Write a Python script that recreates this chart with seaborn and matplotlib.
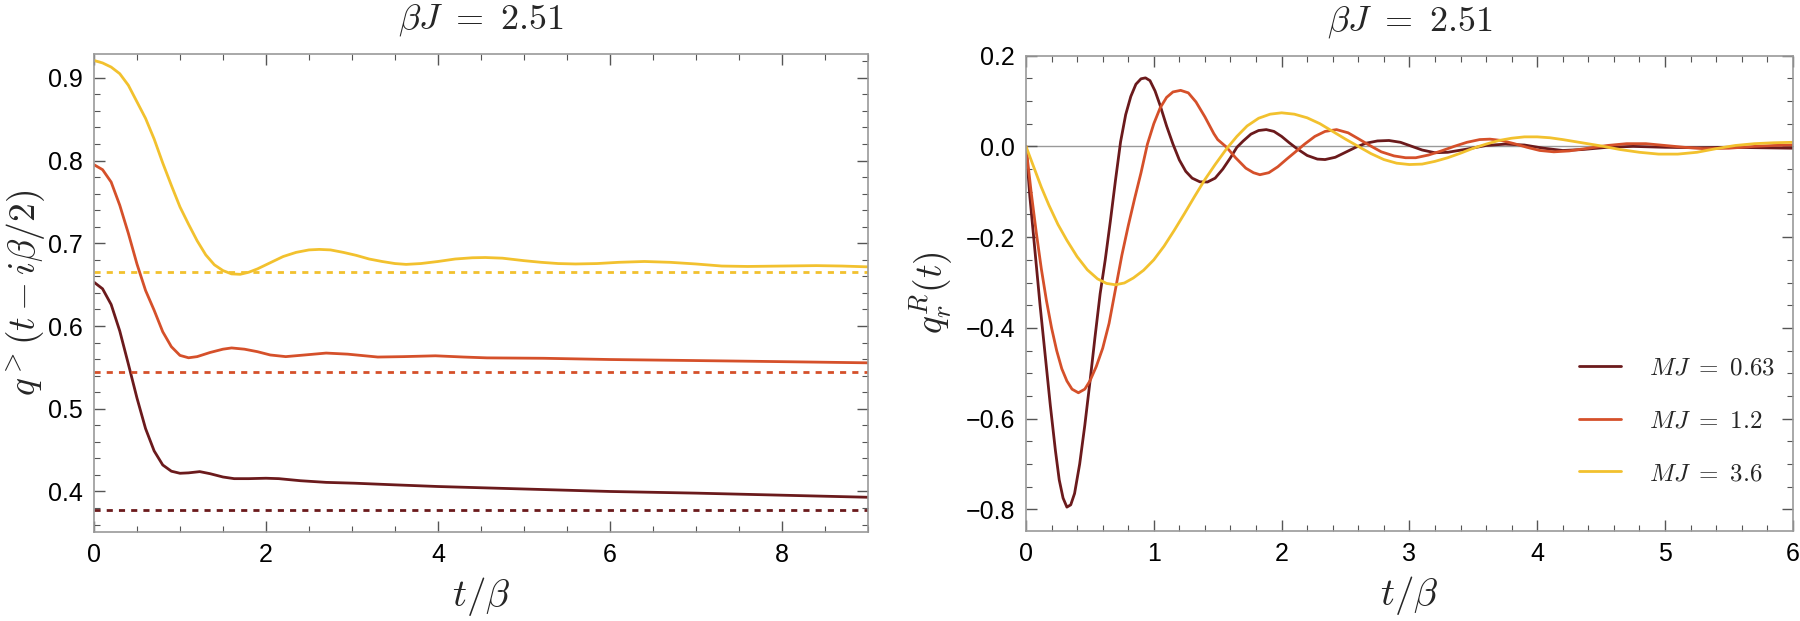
import numpy as np
import pandas as pd
import matplotlib
matplotlib.use("Agg")
import matplotlib.pyplot as plt
from matplotlib import font_manager
from matplotlib.ticker import MultipleLocator
import seaborn as sns

# ---------------- data ----------------
title_text = r"$\beta J\ =\ 2.51$"
labels = [r"$MJ\ =\ 0.63$", r"$MJ\ =\ 1.2$", r"$MJ\ =\ 3.6$"]

# left panel: q^>(t - i beta/2)
left_dark_t = [0, 0.1, 0.2, 0.3, 0.4, 0.5, 0.6, 0.7, 0.8, 0.9, 1.0, 1.1, 1.23, 1.35, 1.5, 1.63, 1.8, 2.0,
               2.15, 2.4, 2.7, 3.03, 3.5, 4.0, 5.0, 6.0, 7.0, 8.0, 9.0]
left_dark_v = [0.653, 0.645, 0.626, 0.594, 0.554, 0.513, 0.476, 0.449, 0.432, 0.4245, 0.422, 0.4225, 0.424,
               0.4215, 0.4175, 0.4155, 0.4155, 0.416, 0.4155, 0.413, 0.411, 0.410, 0.408, 0.406, 0.403,
               0.400, 0.398, 0.3955, 0.393]
left_red_t = [0, 0.1, 0.2, 0.3, 0.4, 0.5, 0.6, 0.7, 0.8, 0.9, 1.0, 1.1, 1.2, 1.35, 1.5, 1.6, 1.75, 1.9, 2.05,
              2.23, 2.45, 2.7, 2.95, 3.3, 3.6, 3.97, 4.3, 4.57, 5.23, 6.0, 6.8, 7.57, 8.3, 9.0]
left_red_v = [0.795, 0.789, 0.774, 0.746, 0.712, 0.675, 0.643, 0.619, 0.593, 0.575, 0.5645, 0.5616, 0.563,
              0.568, 0.572, 0.5735, 0.572, 0.569, 0.565, 0.563, 0.565, 0.5673, 0.566, 0.5625, 0.563, 0.564,
              0.5625, 0.5615, 0.561, 0.5595, 0.5585, 0.5575, 0.5565, 0.5555]
left_yel_t = [0, 0.1, 0.2, 0.3, 0.4, 0.5, 0.6, 0.7, 0.8, 0.9, 1.0, 1.1, 1.2, 1.3, 1.4, 1.5, 1.6, 1.7, 1.8,
              1.9, 2.0, 2.1, 2.2, 2.35, 2.5, 2.62, 2.75, 2.9, 3.05, 3.2, 3.35, 3.5, 3.63, 3.8, 4.0, 4.2, 4.4,
              4.55, 4.75, 5.0, 5.2, 5.4, 5.6, 5.85, 6.1, 6.4, 6.7, 7.0, 7.3, 7.6, 8.0, 8.4, 8.7, 9.0]
left_yel_v = [0.921, 0.918, 0.913, 0.905, 0.891, 0.871, 0.851, 0.826, 0.797, 0.770, 0.744, 0.723, 0.703,
              0.686, 0.674, 0.667, 0.663, 0.6625, 0.665, 0.669, 0.674, 0.679, 0.684, 0.689, 0.692, 0.6926,
              0.692, 0.689, 0.6854, 0.681, 0.678, 0.6755, 0.6745, 0.6755, 0.678, 0.681, 0.6825, 0.6828,
              0.682, 0.679, 0.677, 0.6755, 0.675, 0.6755, 0.677, 0.678, 0.677, 0.675, 0.6725, 0.672,
              0.6725, 0.673, 0.6725, 0.6715]
asymptotes = [0.378, 0.545, 0.665]

# right panel: q_r^R(t)
right_dark_t = [0, 0.03, 0.07, 0.11, 0.15, 0.19, 0.23, 0.26, 0.29, 0.32, 0.35, 0.38, 0.42, 0.46, 0.50, 0.54,
                0.58, 0.62, 0.66, 0.70, 0.74, 0.78, 0.82, 0.86, 0.90, 0.935, 0.97, 1.01, 1.05, 1.10, 1.15,
                1.20, 1.25, 1.30, 1.36, 1.42, 1.48, 1.54, 1.60, 1.65, 1.70, 1.76, 1.82, 1.88, 1.94, 2.0,
                2.06, 2.12, 2.2, 2.28, 2.34, 2.42, 2.5, 2.58, 2.66, 2.75, 2.84, 2.93, 3.02, 3.1, 3.2, 3.3,
                3.45, 3.6, 3.75, 3.9, 4.05, 4.2, 4.35, 4.55, 4.75, 5.0, 5.25, 5.5, 5.75, 6.0]
right_dark_v = [0.0, -0.11, -0.23, -0.35, -0.46, -0.57, -0.67, -0.735, -0.775, -0.795, -0.79, -0.765, -0.70,
                -0.615, -0.52, -0.42, -0.325, -0.25, -0.165, -0.075, 0.01, 0.07, 0.11, 0.137, 0.149, 0.151,
                0.145, 0.122, 0.09, 0.045, 0.005, -0.03, -0.055, -0.07, -0.078, -0.0785, -0.07, -0.05,
                -0.025, -0.002, 0.012, 0.027, 0.035, 0.037, 0.033, 0.022, 0.008, -0.005, -0.02, -0.028,
                -0.029, -0.024, -0.013, -0.002, 0.007, 0.012, 0.013, 0.009, 0.0, -0.008, -0.014, -0.013,
                -0.006, 0.002, 0.005, 0.003, -0.004, -0.009, -0.007, -0.002, 0.0, -0.002, -0.003, -0.002,
                -0.003, -0.004]
right_red_t = [0, 0.04, 0.08, 0.12, 0.16, 0.2, 0.24, 0.28, 0.32, 0.36, 0.41, 0.46, 0.5, 0.55, 0.6, 0.65, 0.7,
               0.75, 0.8, 0.85, 0.9, 0.95, 1.0, 1.05, 1.1, 1.15, 1.21, 1.27, 1.33, 1.4, 1.47, 1.5, 1.57, 1.64,
               1.72, 1.78, 1.83, 1.9, 1.97, 2.04, 2.1, 2.18, 2.26, 2.34, 2.43, 2.52, 2.6, 2.69, 2.78, 2.88,
               2.97, 3.05, 3.15, 3.25, 3.35, 3.45, 3.55, 3.63, 3.72, 3.82, 3.92, 4.02, 4.13, 4.25, 4.4, 4.55,
               4.7, 4.85, 5.0, 5.15, 5.3, 5.5, 5.7, 5.85, 6.0]
right_red_v = [0.0, -0.1, -0.189, -0.27, -0.34, -0.40, -0.45, -0.49, -0.517, -0.535, -0.543, -0.535, -0.517,
               -0.485, -0.445, -0.39, -0.315, -0.24, -0.175, -0.115, -0.058, 0.005, 0.05, 0.085, 0.108,
               0.12, 0.1235, 0.118, 0.098, 0.065, 0.028, 0.015, -0.002, -0.025, -0.048, -0.058, -0.0624,
               -0.058, -0.045, -0.028, -0.014, 0.005, 0.022, 0.033, 0.037, 0.03, 0.017, 0.002, -0.012,
               -0.021, -0.025, -0.025, -0.019, -0.01, 0.0, 0.009, 0.015, 0.016, 0.013, 0.006, -0.002,
               -0.009, -0.012, -0.01, -0.004, 0.002, 0.006, 0.006, 0.002, -0.002, -0.005, -0.004, 0.0,
               0.002, 0.003]
right_yel_t = [0, 0.06, 0.12, 0.18, 0.25, 0.32, 0.4, 0.48, 0.56, 0.63, 0.7, 0.77, 0.84, 0.92, 1.0, 1.08, 1.16,
               1.24, 1.32, 1.4, 1.48, 1.57, 1.65, 1.73, 1.82, 1.91, 2.0, 2.1, 2.2, 2.3, 2.4, 2.5, 2.6, 2.7,
               2.8, 2.9, 3.0, 3.1, 3.2, 3.3, 3.4, 3.5, 3.6, 3.7, 3.8, 3.9, 4.0, 4.1, 4.2, 4.35, 4.5, 4.65,
               4.8, 4.95, 5.1, 5.25, 5.4, 5.55, 5.7, 5.85, 6.0]
right_yel_v = [0.0, -0.045, -0.09, -0.13, -0.172, -0.207, -0.243, -0.272, -0.292, -0.302, -0.305, -0.301,
               -0.29, -0.273, -0.25, -0.22, -0.185, -0.148, -0.11, -0.073, -0.04, -0.005, 0.022, 0.045,
               0.062, 0.071, 0.074, 0.071, 0.063, 0.05, 0.033, 0.016, 0.0, -0.016, -0.029, -0.037, -0.04,
               -0.039, -0.033, -0.025, -0.015, -0.004, 0.005, 0.013, 0.018, 0.021, 0.021, 0.019, 0.015,
               0.008, 0.001, -0.007, -0.013, -0.017, -0.017, -0.013, -0.005, 0.002, 0.006, 0.008, 0.009]

colors = ["#6b1a1c", "#d5502a", "#f2c12e"]

# ---------------- style ----------------
sns.set_theme(style="white")
avail = {f.name for f in font_manager.fontManager.ttflist}
tick_font = "Liberation Sans Narrow" if "Liberation Sans Narrow" in avail else "Liberation Sans"
plt.rcParams["font.family"] = [tick_font, "DejaVu Sans"]
plt.rcParams["mathtext.fontset"] = "cm"

fig = plt.figure(figsize=(18, 6.21), dpi=100)
axL = fig.add_axes([0.0522, 0.1433, 0.430, 0.770])
axR = fig.add_axes([0.570, 0.1454, 0.426, 0.765])

lw = 2.0
left_sets = [(left_dark_t, left_dark_v), (left_red_t, left_red_v), (left_yel_t, left_yel_v)]
for (t, v), c, a in zip(left_sets, colors, asymptotes):
    sns.lineplot(x=t, y=v, ax=axL, color=c, lw=lw, sort=False)
    axL.axhline(a, color=c, lw=2.0, ls=(0, (2.2, 2.2)))

axR.axhline(0, color="#999999", lw=1.0, zorder=0)
right_sets = [(right_dark_t, right_dark_v), (right_red_t, right_red_v), (right_yel_t, right_yel_v)]
for (t, v), c, lab in zip(right_sets, colors, labels):
    sns.lineplot(x=t, y=v, ax=axR, color=c, lw=lw, sort=False, label=lab)

axL.set_xlim(0, 9)
axL.set_ylim(0.351, 0.929)
axL.xaxis.set_major_locator(MultipleLocator(2))
axL.xaxis.set_minor_locator(MultipleLocator(0.5))
axL.yaxis.set_major_locator(MultipleLocator(0.1))
axL.yaxis.set_minor_locator(MultipleLocator(0.02))
axL.yaxis.set_major_formatter(matplotlib.ticker.FormatStrFormatter("%.1f"))

axR.set_xlim(0, 6)
axR.set_ylim(-0.847, 0.2)
axR.xaxis.set_major_locator(MultipleLocator(1))
axR.xaxis.set_minor_locator(MultipleLocator(0.2))
axR.yaxis.set_major_locator(MultipleLocator(0.2))
axR.yaxis.set_minor_locator(MultipleLocator(0.05))
axR.yaxis.set_major_formatter(matplotlib.ticker.FuncFormatter(lambda v, p: f"{v:.1f}".replace("-", "\u2212")))

for ax in (axL, axR):
    for s in ax.spines.values():
        s.set_color("#9a9a9a")
        s.set_linewidth(1.2)
    ax.tick_params(which="both", direction="in", top=True, right=True, bottom=True, left=True,
                   color="#555555", labelsize=18, labelcolor="black")
    ax.tick_params(which="major", length=8, width=1.0, pad=8)
    ax.tick_params(which="minor", length=4, width=0.8)
    ax.set_xlabel(r"$t/\beta$", fontsize=28, labelpad=6)
    ax.set_title(title_text, fontsize=26, pad=18)
    ax.grid(False)

axL.set_ylabel(r"$q^{>}(t-i\beta/2)$", fontsize=27)
axL.yaxis.set_label_coords(-0.060, 0.5)
axR.set_ylabel(r"$q_r^R(t)$", fontsize=27)
axR.yaxis.set_label_coords(-0.093, 0.5)

leg = axR.legend(loc="center right", bbox_to_anchor=(0.99, 0.232), borderaxespad=0.0, frameon=False,
                 fontsize=18, handlelength=1.7, labelspacing=1.15, handletextpad=1.1)

fig.savefig("out.png", dpi=100)
